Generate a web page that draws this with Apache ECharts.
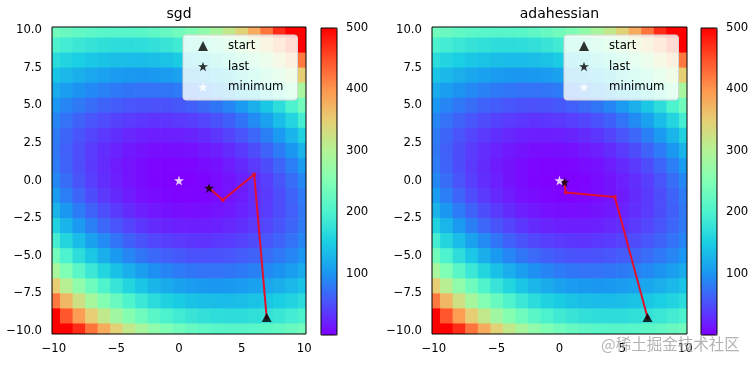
<!DOCTYPE html>
<html>
<head>
<meta charset="utf-8">
<script src="https://cdn.jsdelivr.net/npm/echarts@6/dist/echarts.min.js"></script>
<style>html,body{margin:0;padding:0;background:#fff}#c{width:755px;height:367px}</style>
</head>
<body>
<div id="c"></div>
<script>
// ---------- data ----------
const gridX = [-10,-9,-8,-7,-6,-5,-4,-3,-2,-1,0,1,2,3,4,5,6,7,8,9,10];
const gridY = [10,9,8,7,6,5,4,3,2,1,0,-1,-2,-3,-4,-5,-6,-7,-8,-9,-10];
// loss surface values, one row per gridY entry (top row y=10), columns follow gridX
const surfaceRows = [
  [235,227,220,215,211,210,210,212,217,225,235,249,266,288,314,345,381,424,473,500,500],
  [199,190,183,177,173,170,170,171,174,180,188,199,214,232,255,282,314,351,395,445,500],
  [168,158,150,144,139,136,134,134,136,140,147,156,168,184,203,226,254,287,326,370,421],
  [141,131,122,115,110,106,103,102,103,106,111,119,129,142,159,179,203,232,265,305,350],
  [119,108,98,91,85,80,77,75,75,77,81,87,96,107,121,138,159,184,214,248,289],
  [101,89,79,71,64,59,55,53,52,53,56,61,68,77,89,104,122,144,170,200,236],
  [88,75,64,55,48,42,38,35,33,34,36,39,45,53,63,76,92,111,134,160,192],
  [80,66,54,44,36,30,25,21,19,19,20,23,27,34,43,54,67,84,104,128,156],
  [78,62,49,38,29,22,16,12,9,8,9,11,15,20,28,37,49,64,81,102,127],
  [81,64,49,37,27,18,12,7,4,2,2,4,7,11,18,26,36,49,65,83,105],
  [90,71,54,40,29,20,12,7,3,1,0,1,3,7,12,20,29,40,54,71,90],
  [105,83,65,49,36,26,18,11,7,4,2,2,4,7,12,18,27,37,49,64,81],
  [127,102,81,64,49,37,28,20,15,11,9,8,9,12,16,22,29,38,49,62,78],
  [156,128,104,84,67,54,43,34,27,23,20,19,19,21,25,30,36,44,54,66,80],
  [192,160,134,111,92,76,63,53,45,39,36,34,33,35,38,42,48,55,64,75,88],
  [236,200,170,144,122,104,89,77,68,61,56,53,52,53,55,59,64,71,79,89,101],
  [289,248,214,184,159,138,121,107,96,87,81,77,75,75,77,80,85,91,98,108,119],
  [350,305,265,232,203,179,159,142,129,119,111,106,103,102,103,106,110,115,122,131,141],
  [421,370,326,287,254,226,203,184,168,156,147,140,136,134,134,136,139,144,150,158,168],
  [500,445,395,351,314,282,255,232,214,199,188,180,174,171,170,170,173,177,183,190,199],
  [500,500,473,424,381,345,314,288,266,249,235,225,217,212,210,210,211,215,220,227,235]
];
const sgdPathX = [7.0, 6.0, 3.5, 2.4];
const sgdPathY = [-9.1, 0.4, -1.3, -0.5];
const adaPathX = [7.0, 4.4, 0.5, 0.4];
const adaPathY = [-9.1, -1.1, -0.8, -0.1];
const minimumPoint = [0, 0];
const titles = ['sgd', 'adahessian'];
const xTicks = [-10, -5, 0, 5, 10];
const yTicks = [-10, -7.5, -5, -2.5, 0, 2.5, 5, 7.5, 10];
const cbarTicks = [100, 200, 300, 400, 500];
const legendNames = ['start', 'last', 'minimum'];
const watermark = '@稀土掘金技术社区';

// ---------- build ----------
const X_MIN = -10.14, X_MAX = 10.14, Y_MIN = -10.2, Y_MAX = 10.2;
const FONT = 'DejaVu Sans';
const rainbow = ['#8000ff','#4d4ffc','#1a96f2','#1acee3','#4df3ce','#80ffb4','#b3f396','#e6ce74','#ff964f','#ff4f28','#ff0000'];
const STAR = 'path://M50,0 L61.2,34.5 L97.6,34.5 L68.2,55.9 L79.4,90.5 L50,69.1 L20.6,90.5 L31.8,55.9 L2.4,34.5 L38.8,34.5 Z';

const cells = [];
gridY.forEach((y, r) => gridX.forEach((x, c) => cells.push([x, y, surfaceRows[r][c]])));

const minus = s => String(s).replace('-', '\u2212');
function heatItem(params, api) {
  const x = api.value(0), y = api.value(1);
  const x0 = Math.max(x - 0.5, X_MIN), x1 = Math.min(x + 0.5, X_MAX);
  const y0 = Math.max(y - 0.5, Y_MIN), y1 = Math.min(y + 0.5, Y_MAX);
  const p0 = api.coord([x0, y1]), p1 = api.coord([x1, y0]);
  const ox = x1 < X_MAX ? 0.7 : 0, oy = y0 > Y_MIN ? 0.7 : 0;
  return { type: 'rect', shape: { x: p0[0], y: p0[1], width: p1[0] - p0[0] + ox, height: p1[1] - p0[1] + oy },
           style: { fill: api.visual('color') } };
}

const plotBoxes = [{ left: 52, top: 27, width: 254, height: 307 }, { left: 432, top: 27, width: 255, height: 307 }];
const cbarBoxes = [{ left: 321, top: 28, width: 16, height: 307 }, { left: 701, top: 28, width: 16, height: 307 }];
const paths = [[sgdPathX, sgdPathY], [adaPathX, adaPathY]];

const grid = [], xAxis = [], yAxis = [], series = [], visualMap = [], title = [], legend = [];
const axisText = { color: '#000', fontSize: 11.7, fontFamily: FONT };
plotBoxes.forEach((b, i) => {
  grid.push(Object.assign({ show: true, borderColor: '#000', borderWidth: 1, backgroundColor: 'transparent', z: 5 }, b));
  xAxis.push({ gridIndex: i, type: 'value', min: X_MIN, max: X_MAX, splitLine: { show: false },
    axisLine: { show: false }, axisTick: { customValues: xTicks, length: 4, lineStyle: { color: '#000' } },
    axisLabel: Object.assign({ customValues: xTicks, margin: 9, formatter: v => minus(v) }, axisText) });
  yAxis.push({ gridIndex: i, type: 'value', min: Y_MIN, max: Y_MAX, splitLine: { show: false },
    axisLine: { show: false }, axisTick: { customValues: yTicks, length: 4, lineStyle: { color: '#000' } },
    axisLabel: Object.assign({ customValues: yTicks, margin: 10, formatter: v => minus(v.toFixed(1)) }, axisText) });
  title.push({ text: titles[i], left: b.left + b.width / 2, top: 7, textAlign: 'center', padding: 0,
    textStyle: { fontSize: 14, fontWeight: 'normal', color: '#000', fontFamily: FONT } });
});
cbarBoxes.forEach((b, i) => {
  const gi = 2 + i;
  grid.push(Object.assign({ show: true, borderColor: '#000', borderWidth: 1, backgroundColor: 'transparent', z: 8 }, b));
  xAxis.push({ gridIndex: gi, type: 'value', show: false, min: 0, max: 1 });
  yAxis.push({ gridIndex: gi, type: 'value', position: 'right', min: 0, max: 500, splitLine: { show: false },
    axisLine: { show: false }, axisTick: { customValues: cbarTicks, length: 4, lineStyle: { color: '#000' } },
    axisLabel: Object.assign({ customValues: cbarTicks, margin: 9 }, axisText) });
  visualMap.push({ type: 'continuous', seriesIndex: i, dimension: 2, min: 0, max: 500, calculable: false,
    hoverLink: false, left: b.left, top: b.top, itemWidth: b.width, itemHeight: b.height, padding: 0,
    inRange: { color: rainbow }, text: null, showLabel: false });
});
// heat surfaces
[0, 1].forEach(i => series.push({ type: 'custom', xAxisIndex: i, yAxisIndex: i, renderItem: heatItem,
  data: cells, encode: { x: 0, y: 1 }, silent: true, z: 1 }));
[0, 1].forEach(i => {
  const px = paths[i][0], py = paths[i][1];
  series.push({ type: 'line', xAxisIndex: i, yAxisIndex: i, data: px.map((x, k) => [x, py[k]]),
    lineStyle: { color: '#e0102f', width: 2 }, itemStyle: { color: '#e0102f' }, symbol: 'circle', symbolSize: 4,
    showSymbol: true, silent: true, animation: false, z: 3 });
  const n = px.length - 1;
  series.push({ name: legendNames[0], type: 'scatter', xAxisIndex: i, yAxisIndex: i, data: [[px[0], py[0]]],
    symbol: 'triangle', symbolSize: [10, 9], itemStyle: { color: '#000' }, z: 4, silent: true });
  series.push({ name: legendNames[1], type: 'scatter', xAxisIndex: i, yAxisIndex: i, data: [[px[n], py[n]]],
    symbol: STAR, symbolSize: 10, itemStyle: { color: '#000' }, z: 4, silent: true });
  series.push({ name: legendNames[2], type: 'scatter', xAxisIndex: i, yAxisIndex: i, data: [minimumPoint],
    symbol: STAR, symbolSize: 10, itemStyle: { color: '#fff' }, z: 4, silent: true });
  const b = plotBoxes[i];
  legend.push({ orient: 'vertical', left: b.left + b.width - 123, top: 35, data: legendNames,
    backgroundColor: 'rgba(255,255,255,0.8)', borderColor: '#d6d6d6', borderWidth: 1, borderRadius: 3,
    padding: [4, 14, 6, 15], itemGap: 6.5, itemWidth: 10, itemHeight: 10, selectedMode: false, z: 9,
    textStyle: { fontSize: 11.7, color: '#000', fontFamily: FONT, padding: [0, 0, 0, 15], lineHeight: 14 } });
});

const chart = echarts.init(document.getElementById('c'), null, { renderer: 'canvas' });
chart.setOption({
  animation: false, backgroundColor: '#fff', title, grid, xAxis, yAxis, visualMap, legend, series,
  graphic: [{ type: 'text', left: 601, top: 336, z: 20, silent: true,
    style: { text: watermark, fill: 'rgba(160,160,160,0.8)', fontSize: 15.5, fontFamily: 'Noto Sans CJK SC' } }]
});
</script>
</body>
</html>
